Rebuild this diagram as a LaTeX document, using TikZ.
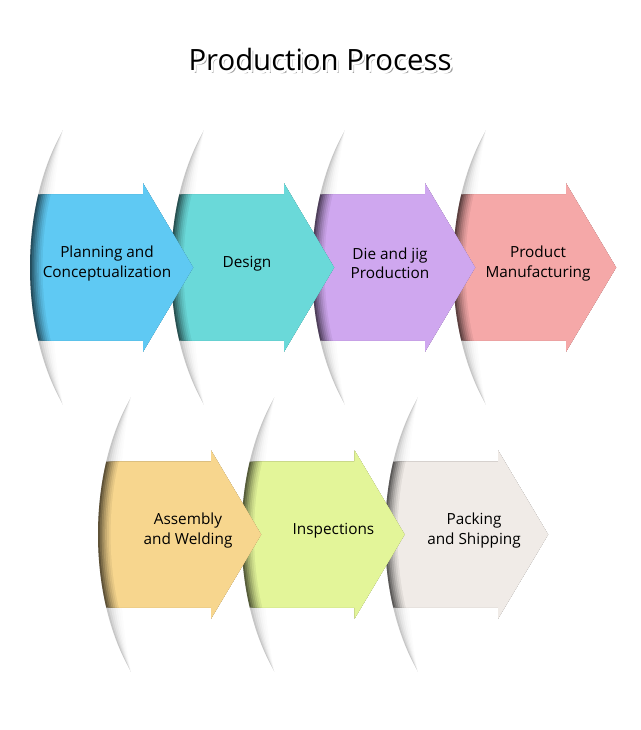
\documentclass[tikz,border=0pt]{standalone}
\usepackage{fontspec}
\setmainfont{Open Sans}
\usetikzlibrary{positioning}

\definecolor{planblue}{HTML}{5FC9F3}
\definecolor{designteal}{HTML}{6AD9D9}
\definecolor{dielilac}{HTML}{CFA7EF}
\definecolor{manupink}{HTML}{F5A8A8}
\definecolor{assyellow}{HTML}{F7D68E}
\definecolor{inslime}{HTML}{E3F599}
\definecolor{packgrey}{HTML}{F0EBE7}

% #1 left x, #2 centre y, #3 colour, #4 node name, #5 label offset, #6 label
\newcommand{\procarrow}[6]{%
  % shadow lens
  \foreach \k/\shd in {0/45,1/32,2/22,3/15,4/9,5/5,6/2} {
    \pgfmathsetmacro{\ctl}{(4*(#1+3*\k)-(#1+33))/3}
    \fill[gray!\shd!white] (#1+33,#2-137) .. controls (\ctl,#2-62) and (\ctl,#2+62) .. (#1+33,#2+137)
      -- (#1+40+3*\k,#2+137) -- (#1+40+3*\k,#2-137) -- cycle;
  }
  \fill[white] (#1+33,#2-137) .. controls (#1+17,#2-62) and (#1+17,#2+62) .. (#1+33,#2+137)
    -- (#1+33,#2+140) -- (#1+64,#2+140) -- (#1+64,#2-140) -- (#1+33,#2-140) -- cycle;
  % arrow body with dark left rim
  \begin{scope}
    \clip (#1+33,#2-137) .. controls (#1-11,#2-62) and (#1-11,#2+62) .. (#1+33,#2+137)
      -- (#1+200,#2+137) -- (#1+200,#2-137) -- cycle;
    \clip (#1-20,#2-73) -- (#1+113,#2-73) -- (#1+113,#2-84) -- (#1+163,#2)
      -- (#1+113,#2+84) -- (#1+113,#2+73) -- (#1-20,#2+73) -- cycle;
    \foreach \k/\tone in {0/38,1/50,2/61,3/71,4/80,5/88,6/94,7/100}
      \fill[#3!\tone!black] (#1+33+1.8*\k,#2-137) .. controls (#1-11+1.8*\k,#2-62)
        and (#1-11+1.8*\k,#2+62) .. (#1+33+1.8*\k,#2+137)
        -- (#1+200,#2+137) -- (#1+200,#2-137) -- cycle;
  \end{scope}
  \node[steplabel] (#4) at (#1+#5,#2-4) {#6};
}

% white rim round the heading
\newcommand{\rimtext}[1]{%
  \rlap{\special{pdf:literal direct 1 Tr 3 w 1 1 1 RG 1 j}#1\special{pdf:literal direct 0 Tr}}#1}

\begin{document}
\begin{tikzpicture}[x=0.75pt, y=-0.75pt]
\tikzstyle{steplabel} = [align=center, font=\fontsize{11.5}{14.5}\selectfont,
  inner sep=0pt, text=black];
\tikzstyle{headline} = [font=\fontsize{22}{26}\selectfont, inner sep=0pt];
\useasboundingbox[fill=white] (0,0) rectangle (640,730);

% top row, drawn right to left
\procarrow{453}{267.5}{manupink}{manu}{85}{Product\\Manufacturing}
\procarrow{312}{267.5}{dielilac}{die}{78}{Die and jig\\Production}
\procarrow{171}{267.5}{designteal}{design}{76}{Design}
\procarrow{30}{267.5}{planblue}{plan}{77}{Planning and\\Conceptualization}

% bottom row
\procarrow{385}{534.5}{packgrey}{pack}{89}{Packing\\and Shipping}
\procarrow{241.5}{534.5}{inslime}{insp}{92}{Inspections}
\procarrow{98}{534.5}{assyellow}{assy}{90}{Assembly\\and Welding}

% title with drop shadow
\node[headline, text=gray!75] (title-shadow) at (322.5,62.5) {Production Process};
\node[headline, text=black] (title) at (320,60) {\rimtext{Production Process}};
\end{tikzpicture}
\end{document}
